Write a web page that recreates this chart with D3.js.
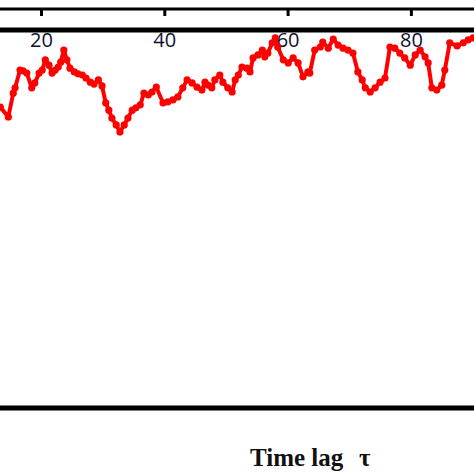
<!DOCTYPE html>
<html>
<head>
<meta charset="utf-8">
<script src="https://cdn.jsdelivr.net/npm/d3@7"></script>
<style>
  html, body { margin: 0; padding: 0; background: #fff; }
  svg { display: block; }
</style>
</head>
<body>
<svg id="chart" width="474" height="474"></svg>
<script>
// Data
const lags = [13.4,14.7,15.5,15.8,16.6,17.1,17.7,18.5,19.0,19.7,20.2,20.7,21.3,21.8,22.3,22.8,23.2,23.7,24.2,24.7,25.4,26.0,26.7,27.3,28.0,28.6,29.3,29.9,30.5,31.0,31.5,32.2,32.8,33.5,34.1,34.8,35.4,36.1,36.7,37.4,38.0,38.7,39.8,40.6,41.4,42.2,43.0,43.7,44.5,45.3,46.1,46.6,47.1,47.7,48.2,49.0,49.5,50.3,51.0,51.5,52.0,52.6,53.4,53.9,54.4,55.2,55.9,56.3,56.8,57.5,58.0,58.4,59.3,60.1,60.9,61.7,62.5,63.3,63.6,64.4,65.3,65.7,66.6,67.4,68.2,69.0,69.8,70.6,71.4,72.1,72.6,73.4,74.2,75.0,75.8,76.6,77.4,78.2,79.0,79.9,80.7,81.5,82.3,82.8,83.4,84.2,85.0,85.5,86.3,87.5,88.5,89.3,90.1];
const values = [0.796,0.770,0.833,0.847,0.894,0.892,0.886,0.847,0.860,0.886,0.894,0.921,0.907,0.886,0.894,0.902,0.915,0.947,0.921,0.899,0.889,0.884,0.881,0.873,0.862,0.857,0.868,0.852,0.807,0.788,0.767,0.749,0.730,0.749,0.767,0.788,0.794,0.802,0.833,0.828,0.836,0.849,0.807,0.810,0.815,0.823,0.847,0.868,0.860,0.849,0.841,0.862,0.854,0.847,0.868,0.881,0.862,0.847,0.836,0.868,0.881,0.902,0.899,0.889,0.926,0.934,0.947,0.929,0.939,0.966,0.979,0.955,0.921,0.913,0.926,0.913,0.876,0.889,0.886,0.947,0.955,0.968,0.952,0.976,0.960,0.952,0.947,0.939,0.889,0.868,0.847,0.836,0.847,0.862,0.873,0.955,0.952,0.939,0.926,0.907,0.934,0.947,0.929,0.913,0.847,0.841,0.854,0.894,0.966,0.958,0.966,0.974,0.979];
const xTicks = [20, 40, 60, 80];
const xTitle = "Time lag";
const xSymbol = "τ";

const svg = d3.select("#chart");
const W = 474;

const x = d3.scaleLinear().domain([0, 100]).range([-82.3, 534.2]);
const y = d3.scaleLinear().domain([0, 1]).range([408, 30]);

// top thin axis with ticks
const topAxis = svg.append("g")
  .attr("transform", "translate(0,9)")
  .call(d3.axisBottom(x).tickValues(xTicks).tickSize(7).tickFormat(""));
topAxis.select(".domain").remove();
topAxis.selectAll(".tick line").attr("stroke", "#000").attr("stroke-width", 3);
svg.append("line").attr("x1", 0).attr("x2", W).attr("y1", 9).attr("y2", 9)
  .attr("stroke", "#000").attr("stroke-width", 3);

// thick line (frame) at top
svg.append("line").attr("x1", 0).attr("x2", W).attr("y1", y(1)).attr("y2", y(1))
  .attr("stroke", "#000").attr("stroke-width", 5);

// tick labels below thick line
const labAxis = svg.append("g")
  .attr("transform", "translate(0," + (y(1) + 1) + ")")
  .call(d3.axisBottom(x).tickValues(xTicks).tickSize(0).tickPadding(2));
labAxis.select(".domain").remove();
labAxis.selectAll(".tick text")
  .attr("fill", "#0f0f33")
  .style("font-family", "'Open Sans', 'Liberation Sans', Arial, sans-serif")
  .style("font-size", "20px");

// bottom thick line
svg.append("line").attr("x1", 0).attr("x2", W).attr("y1", y(0)).attr("y2", y(0))
  .attr("stroke", "#000").attr("stroke-width", 5);

// data line
const pts = lags.map((l, i) => [l, values[i]]);
svg.append("path")
  .datum(pts)
  .attr("fill", "none")
  .attr("stroke", "#ff0000")
  .attr("stroke-width", 4)
  .attr("stroke-linejoin", "round")
  .attr("d", d3.line().x(d => x(d[0])).y(d => y(d[1])));

svg.append("g").selectAll("circle")
  .data(pts)
  .join("circle")
  .attr("cx", d => x(d[0]))
  .attr("cy", d => y(d[1]))
  .attr("r", 3.6)
  .attr("fill", "#ff0000");

// x title
const title = svg.append("text")
  .attr("x", 250).attr("y", 466)
  .style("font-family", "'Liberation Serif', 'Times New Roman', serif")
  .style("font-weight", "bold")
  .style("font-size", "25px")
  .attr("fill", "#111");
title.append("tspan").text(xTitle);
title.append("tspan").attr("x", 359).text(xSymbol);
</script>
</body>
</html>
